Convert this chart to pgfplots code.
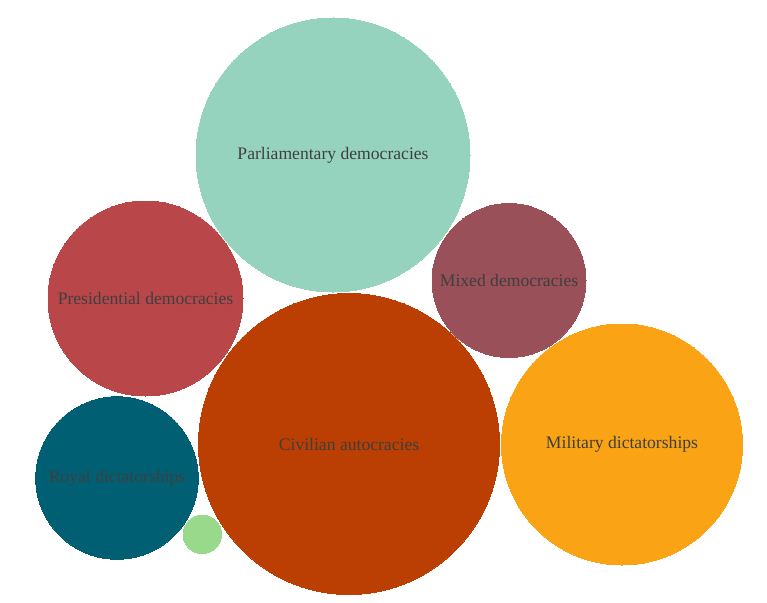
\documentclass[border=0pt]{standalone}
\usepackage{fontspec}
\setmainfont{Liberation Serif}
\usepackage{pgfplots}
\pgfplotsset{compat=1.18}

\definecolor{parl}{HTML}{96D3BE}
\definecolor{pres}{HTML}{B9474A}
\definecolor{mixd}{HTML}{9A5058}
\definecolor{civil}{HTML}{BB3E02}
\definecolor{milit}{HTML}{FAA314}
\definecolor{royal}{HTML}{005F73}
\definecolor{small}{HTML}{99D98C}
\definecolor{lbl}{HTML}{3F3F3F}

% one bubble: fill colour, radius (px = pt here), label
\pgfplotsset{
  bubble/.style n args={3}{
    color=#1, only marks, mark=*, mark size=#2,
    mark options={draw=#1, fill=#1, line width=0pt},
    nodes near coords={#3},
    every node near coord/.append style={anchor=center, inner sep=0pt,
      yshift=0pt, text=lbl, font=\fontsize{17.6}{20}\selectfont},
  },
}

\begin{document}
\begin{tikzpicture}
\begin{axis}[
  width=767pt, height=602pt,
  scale only axis,
  xmin=0, xmax=767,
  ymin=0, ymax=602,
  y dir=reverse,
  axis line style={draw=none},
  ticks=none,
  clip=false,
]

\addplot[bubble={parl}{137}{Parliamentary democracies}]
  coordinates {(333,155)};
\addplot[bubble={pres}{97.5}{Presidential democracies}]
  coordinates {(145.5,298.5)};
\addplot[bubble={mixd}{77}{Mixed democracies}]
  coordinates {(509,280.5)};
\addplot[bubble={civil}{150.5}{Civilian autocracies}]
  coordinates {(349,444)};
\addplot[bubble={milit}{120.5}{Military dictatorships}]
  coordinates {(622,444.5)};
\addplot[bubble={royal}{81.3}{Royal dictatorships}]
  coordinates {(117,478)};
\addplot[bubble={small}{19.3}{}]
  coordinates {(202.3,534.3)};

\end{axis}
\end{tikzpicture}
\end{document}
